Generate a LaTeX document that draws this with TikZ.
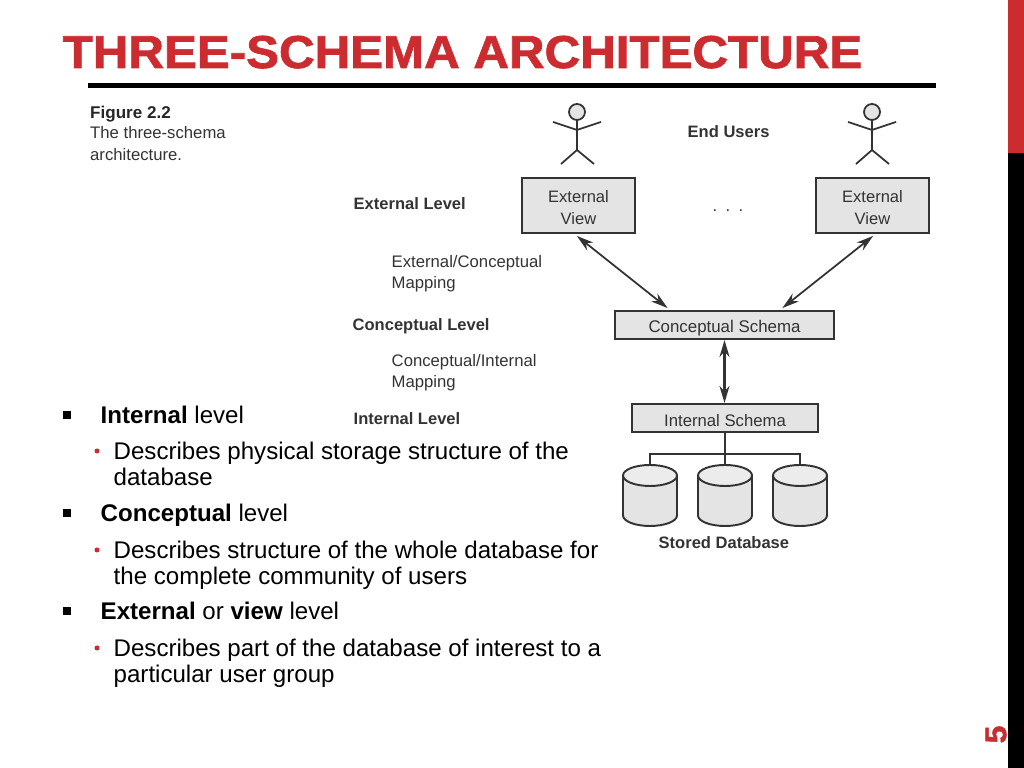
\documentclass[tikz,border=0pt]{standalone}
\usepackage{fontspec}
\setmainfont{Liberation Sans}
\newfontfamily\titlefont[FakeBold=1.6,FakeStretch=1.07]{Liberation Sans Bold}
\usetikzlibrary{arrows.meta}
\definecolor{clred}{HTML}{CC2B2F}
\definecolor{clgray}{HTML}{E4E4E4}
\definecolor{clink}{HTML}{333333}
\tikzset{
  schemabox/.style={draw=clink, line width=0.6pt, fill=clgray, text=clink, inner sep=0pt, align=center, font=\fontsize{4.7}{6}\selectfont},
  figlabel/.style={anchor=base west, inner sep=0pt, text=clink, align=left, font=\fontsize{4.75}{6.1}\selectfont},
  levellabel/.style={figlabel, font=\bfseries\fontsize{4.7}{6}\selectfont},
  bodytext/.style={anchor=base west, inner sep=0pt, text=black, align=left, font=\fontsize{6.85}{7.45}\selectfont},
  biarrow/.style={{Stealth[length=0.17cm,width=0.1cm]}-{Stealth[length=0.17cm,width=0.1cm]}, draw=clink, line width=0.5pt},
  stick/.style={draw=clink, line width=0.5pt}
}
\begin{document}
\begin{tikzpicture}[x=0.01cm,y=-0.01cm]
  \useasboundingbox (0,0) rectangle (1024,768);
  % slide frame
  \fill[clred] (1008,0) rectangle (1024,153);
  \fill[black] (1008,153) rectangle (1024,768);
  \fill[black] (88,83) rectangle (936,88);
  \node[anchor=base west, inner sep=0pt, text=clred, font=\titlefont\fontsize{13.1}{16}\selectfont] (title) at (62,68) {THREE-SCHEMA ARCHITECTURE};
  \node[inner sep=0pt, text=clred, rotate=90, font=\titlefont\fontsize{8.5}{10}\selectfont] (pagenum) at (996,734.5) {5};
  % figure caption
  \node[figlabel, text=black!85, font=\bfseries\fontsize{4.85}{6}\selectfont] (figcap) at (89.5,119) {Figure 2.2};
  \node[figlabel] (figtxta) at (89.5,139) {The three-schema};
  \node[figlabel] (figtxtb) at (89.5,161) {architecture.};
  % users
  \foreach \ux in {577,872} {
    \draw[stick, fill=clgray] (\ux,112) circle (8);
    \draw[stick, line width=0.65pt] (\ux,120) -- (\ux,150);
    \draw[stick] (\ux-24,122) -- (\ux,130) -- (\ux+24,122);
    \draw[stick] (\ux-16,164) -- (\ux,150) -- (\ux+17,164);
  }
  \node[levellabel] (endusers) at (687,138) {End Users};
  % levels
  \node[levellabel] (extlevel) at (353,210) {External Level};
  \node[levellabel] (conlevel) at (352,331) {Conceptual Level};
  \node[levellabel] (intlevel) at (353,425) {Internal Level};
  \node[figlabel] (mapa) at (391,268) {External/Conceptual};
  \node[figlabel] (mapb) at (391,289) {Mapping};
  \node[figlabel] (mapc) at (391,367) {Conceptual/Internal};
  \node[figlabel] (mapd) at (391,388) {Mapping};
  % schemas
  \node[schemabox, minimum width=1.13cm, minimum height=0.55cm] (extleft) at (578.5,205.5) {\rule{0pt}{4.6pt}External\\View};
  \node[schemabox, minimum width=1.13cm, minimum height=0.55cm] (extright) at (872.5,205.5) {\rule{0pt}{4.6pt}External\\View};
  \node[figlabel] (dots) at (712,212) {.\,\,\,.\,\,\,.};
  \node[schemabox, minimum width=2.19cm, minimum height=0.28cm, font=\fontsize{4.8}{6}\selectfont] (concept) at (724.5,325) {\rule{0pt}{5.5pt}Conceptual Schema};
  \node[schemabox, minimum width=1.86cm, minimum height=0.28cm, font=\fontsize{4.75}{6}\selectfont] (internal) at (725,418) {\rule{0pt}{5.1pt}Internal Schema};
  \draw[biarrow, shorten >=0.03cm, shorten <=0.03cm] ([xshift=-0.04cm]extleft.south) -- ([xshift=-0.545cm]concept.north);
  \draw[biarrow, shorten >=0.03cm, shorten <=0.03cm] ([xshift=0.03cm]extright.south) -- ([xshift=0.555cm]concept.north);
  \draw[biarrow, line width=0.7pt] (concept.south) -- (concept.south |- internal.north);
  % disks
  \foreach \dn/\dx in {diska/650,diskb/725,diskc/800} {
    \draw[stick, line width=0.55pt, fill=clgray] (\dx,515.5) ellipse (27 and 10.5);
    \fill[clgray] (\dx-27,475.5) rectangle (\dx+27,515.5);
    \draw[stick, line width=0.55pt] (\dx-27,475.5) -- (\dx-27,515.5) (\dx+27,475.5) -- (\dx+27,515.5);
    \draw[stick, line width=0.55pt, fill=clgray!70] (\dx,475.5) ellipse (27 and 10.5);
    \coordinate (\dn) at (\dx,465);
  }
  \coordinate (bus) at (725,454);
  \draw[stick, line width=0.65pt] (internal.south) -- (diskb);
  \draw[stick, line width=0.65pt] (diska) |- (bus) -| (diskc);
  \node[levellabel] (stored) at (658,549) {Stored Database};
  % bullet text
  \foreach \by in {411,509,607} \fill (63,\by) rectangle +(8,8);
  \foreach \by in {451,550,648} \fill[clred] (97,\by) circle (2.5);
  \node[bodytext] (lva) at (100,424) {\textbf{Internal} level};
  \node[bodytext] (lvb) at (113,460) {Describes physical storage structure of the};
  \node[bodytext] (lvc) at (113,486) {database};
  \node[bodytext] (lvd) at (100,522) {\textbf{Conceptual} level};
  \node[bodytext] (lve) at (113,559) {Describes structure of the whole database for};
  \node[bodytext] (lvf) at (113,585) {the complete community of users};
  \node[bodytext] (lvg) at (100,620) {\textbf{External} or \textbf{view} level};
  \node[bodytext] (lvh) at (113,657) {Describes part of the database of interest to a};
  \node[bodytext] (lvi) at (113,683) {particular user group};
\end{tikzpicture}
\end{document}
